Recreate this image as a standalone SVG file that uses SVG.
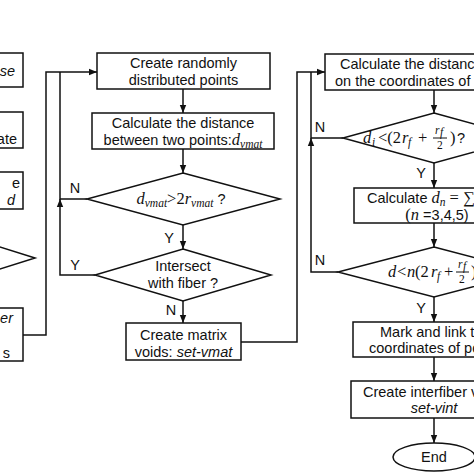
<svg xmlns="http://www.w3.org/2000/svg" width="474" height="474" viewBox="0 0 474 474">
<style>
.b{fill:#fff;stroke:#111;stroke-width:1.5}
.l{fill:none;stroke:#111;stroke-width:1.5}
.a{marker-end:url(#ah)}
.t{font-family:"Liberation Sans",Arial,sans-serif;font-size:14.5px;fill:#111}
.c{text-anchor:middle}
.e{text-anchor:end}
.i{font-style:italic}
.m{font-family:"Liberation Serif","DejaVu Serif",serif;font-style:italic;font-size:16.5px;fill:#111}
.u{font-style:normal}
.s{font-size:11.5px}
</style>
<defs>
<marker id="ah" viewBox="0 0 10 10" refX="10" refY="5" markerWidth="8" markerHeight="8" markerUnits="userSpaceOnUse" orient="auto"><path d="M0,1 L10,5 L0,9 Z" fill="#111"/></marker>
</defs>

<g id="connectors">
<polyline class="l a" points="23,335 46,335 46,72 97,72"/>
<polyline class="l" points="87,199 60,199 60,72"/>
<polyline class="l a" points="95,275 60,275 60,199"/>
<line class="l a" x1="183" y1="89" x2="183" y2="113"/>
<line class="l a" x1="183" y1="149" x2="183" y2="173"/>
<line class="l a" x1="183" y1="225" x2="183" y2="249"/>
<line class="l a" x1="183" y1="301" x2="183" y2="323"/>
<polyline class="l a" points="241,342 297,342 297,72 325,72"/>
<polyline class="l" points="343,138 311,138 311,72"/>
<polyline class="l a" points="338,272 311,272 311,138"/>
<line class="l a" x1="434" y1="90" x2="434" y2="113"/>
<line class="l a" x1="434" y1="163" x2="434" y2="188"/>
<line class="l a" x1="434" y1="223" x2="434" y2="247"/>
<line class="l a" x1="434" y1="297" x2="434" y2="322"/>
<line class="l a" x1="434" y1="357" x2="434" y2="381"/>
<line class="l a" x1="434" y1="418" x2="434" y2="443"/>
<text class="t c" x="75" y="193">N</text>
<text class="t c" x="169" y="243">Y</text>
<text class="t c" x="75" y="270">Y</text>
<text class="t c" x="171" y="315">N</text>
<text class="t c" x="320" y="132">N</text>
<text class="t c" x="421" y="178">Y</text>
<text class="t c" x="320" y="265">N</text>
<text class="t c" x="421" y="313">Y</text>
</g>

<g id="left-box-1"><rect class="b" x="-20" y="53" width="43" height="34"/><text class="t e i" x="15" y="76">se</text></g>
<g id="left-box-2"><rect class="b" x="-20" y="112" width="43" height="36"/><text class="t e" x="17" y="144">ate</text></g>
<g id="left-box-3"><rect class="b" x="-20" y="172" width="43" height="37"/><text class="t e" x="20" y="188">e</text><text class="t e i" x="15" y="205">d</text></g>
<g id="left-decision"><polygon class="b" points="35,258 -48,232 -131,258 -48,284"/></g>
<g id="left-box-4"><rect class="b" x="-20" y="308" width="43" height="53"/><text class="t e i" x="13" y="323">er</text><text class="t e" x="10" y="358">s</text></g>

<g id="create-points"><rect class="b" x="97" y="53" width="173" height="36"/>
<text class="t c" x="183.5" y="68">Create randomly</text><text class="t c" x="183.5" y="85">distributed points</text></g>
<g id="calc-dvmat"><rect class="b" x="92" y="113" width="182" height="36"/>
<text class="t c" x="183" y="128">Calculate the distance</text>
<text class="t c" x="183" y="145">between two points:<tspan class="m">d</tspan><tspan class="m s" dy="3">vmat</tspan></text></g>
<g id="decision-dvmat"><polygon class="b" points="183,173 280,199 183,225 87,199"/>
<text class="t c" x="181" y="204"><tspan class="m">d</tspan><tspan class="m s" dy="3">vmat</tspan><tspan class="m u" dy="-3">&gt;2</tspan><tspan class="m">r</tspan><tspan class="m s" dy="3">vmat</tspan><tspan dy="-3"> ?</tspan></text></g>
<g id="decision-intersect"><polygon class="b" points="183,249 271,275 183,301 95,275"/>
<text class="t c" x="183" y="271">Intersect</text><text class="t c" x="183" y="288">with fiber ?</text></g>
<g id="matrix-voids"><rect class="b" x="126" y="323" width="115" height="37"/>
<text class="t c" x="183.5" y="340">Create matrix</text><text class="t c" x="183.5" y="357">voids: <tspan class="i">set-vmat</tspan></text></g>

<g id="calc-distance"><rect class="b" x="325" y="54" width="200" height="36"/>
<text class="t" x="340" y="69">Calculate the distance</text><text class="t" x="335" y="86">on the coordinates of</text></g>
<g id="decision-di"><polygon class="b" points="434,113 525,138 434,163 343,138"/>
<text class="m" x="363" y="143">d</text><text class="m s" x="372" y="146">i</text>
<text class="m u" x="378" y="143">&lt;(2</text>
<text class="m" x="402" y="143">r</text><text class="m s" x="408" y="146">f</text>
<text class="m u" x="418" y="143">+</text>
<text class="m s" x="435" y="134">r</text><text class="m s" x="440" y="136" font-size="8">f</text>
<line x1="433" y1="138" x2="447" y2="138" stroke="#111" stroke-width="1"/>
<text class="m u s" x="437" y="149">2</text>
<text class="m u" x="450" y="143">)</text><text class="t" x="457" y="143">?</text></g>
<g id="calc-dn"><rect class="b" x="354" y="188" width="160" height="35"/>
<text class="t" x="367" y="203">Calculate <tspan class="m">d</tspan><tspan class="m s" dy="3">n</tspan><tspan class="m u" dy="-3"> = ∑</tspan></text>
<text class="t c" x="437" y="220"><tspan class="m u">(</tspan><tspan class="m">n</tspan> =3,4,5)</text></g>
<g id="decision-dn"><polygon class="b" points="434,247 530,272 434,297 338,272"/>
<text class="m" x="388" y="277">d</text>
<text class="m u" x="397" y="277">&lt;</text>
<text class="m" x="407" y="277">n</text>
<text class="m u" x="415" y="277">(2</text>
<text class="m" x="431" y="277">r</text><text class="m s" x="437" y="280">f</text>
<text class="m u" x="444" y="277">+</text>
<text class="m s" x="458" y="268">r</text><text class="m s" x="463" y="270" font-size="8">f</text>
<line x1="456" y1="272" x2="469" y2="272" stroke="#111" stroke-width="1"/>
<text class="m u s" x="459" y="283">2</text>
<text class="m u" x="471" y="277">)?</text></g>
<g id="mark-link"><rect class="b" x="353" y="322" width="162" height="35"/>
<text class="t" x="380" y="337">Mark and link the</text><text class="t" x="369" y="353">coordinates of points</text></g>
<g id="interfiber-voids"><rect class="b" x="351" y="381" width="166" height="37"/>
<text class="t" x="363" y="397">Create interfiber voids:</text><text class="t c i" x="434" y="413">set-vint</text></g>
<g id="end"><ellipse class="b" cx="434" cy="457" rx="41" ry="14"/><text class="t c" x="434" y="462">End</text></g>
</svg>
